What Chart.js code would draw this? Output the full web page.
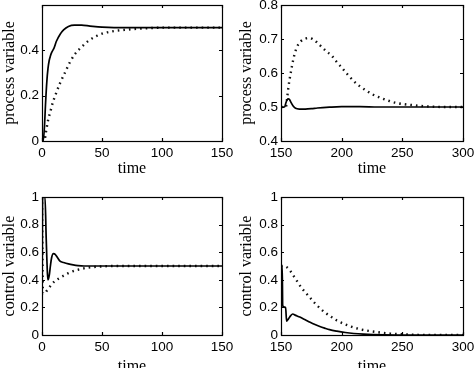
<!DOCTYPE html>
<html><head><meta charset="utf-8">
<script src="https://cdn.jsdelivr.net/npm/chart.js@4/dist/chart.umd.min.js"></script>
<style>
html,body{margin:0;padding:0;background:#fff;overflow:hidden;width:474px;height:368px;position:relative;}
canvas{position:absolute;}
</style></head><body>
<canvas id="c1" width="237" height="184" style="left:0;top:0"></canvas>
<canvas id="c2" width="237" height="184" style="left:237px;top:0"></canvas>
<canvas id="c3" width="237" height="200" style="left:0;top:184px"></canvas>
<canvas id="c4" width="237" height="200" style="left:237px;top:184px"></canvas>
<script>
// ---- tick labels ----
const xTicksLeft = [0, 50, 100, 150];
const xTicksRight = [150, 200, 250, 300];
const yTicksP1 = [0, 0.2, 0.4];
const yTicksP2 = [0.4, 0.5, 0.6, 0.7, 0.8];
const yTicksCtrl = [0, 0.2, 0.4, 0.6, 0.8, 1];

// ---- panel 1: process variable, t 0..150 ----
const p1SolidT = [0, 1, 2, 3, 4, 5, 6, 7, 8, 10, 12, 15, 18, 22, 27, 33, 40, 50, 60, 150];
const p1SolidY = [0, 0, 0.06, 0.17, 0.26, 0.32, 0.355, 0.375, 0.39, 0.41, 0.44, 0.47, 0.49, 0.505, 0.511, 0.511, 0.507, 0.502, 0.5, 0.5];
const p1DotT = [0, 2, 3, 5, 7, 9, 11, 15, 19, 23, 27, 33, 39, 45, 51, 60, 70, 80, 90, 100, 150];
const p1DotY = [0, 0, 0.03, 0.09, 0.13, 0.17, 0.2, 0.255, 0.3, 0.345, 0.38, 0.415, 0.443, 0.462, 0.475, 0.485, 0.491, 0.495, 0.498, 0.5, 0.5];

// ---- panel 2: process variable, t 150..300 ----
const p2SolidT = [150, 153, 154, 155, 156, 157, 158, 160, 162, 165, 170, 175, 180, 190, 200, 215, 230, 300];
const p2SolidY = [0.5, 0.5, 0.512, 0.521, 0.524, 0.522, 0.515, 0.503, 0.496, 0.494, 0.494, 0.495, 0.497, 0.4995, 0.501, 0.501, 0.5, 0.5];
const p2DotT = [150, 154, 155, 156, 157, 158, 159, 161, 163, 166, 170, 173, 176, 179, 182, 187, 192, 196, 200, 205, 210, 215, 220, 226, 232, 238, 245, 252, 260, 270, 285, 300];
const p2DotY = [0.5, 0.5, 0.525, 0.555, 0.58, 0.6, 0.62, 0.653, 0.675, 0.692, 0.701, 0.703, 0.7, 0.692, 0.682, 0.665, 0.65, 0.632, 0.616, 0.595, 0.576, 0.561, 0.549, 0.536, 0.527, 0.519, 0.512, 0.508, 0.505, 0.502, 0.5, 0.5];

// ---- panel 3: control variable, t 0..150 ----
const p3SolidT = [0, 0.5, 2.5, 3.5, 4.5, 5, 6, 7, 8, 9.5, 11, 13, 15, 18, 22, 26, 30, 35, 150];
const p3SolidY = [0, 1, 1, 0.7, 0.45, 0.4, 0.43, 0.5, 0.56, 0.59, 0.585, 0.56, 0.535, 0.525, 0.515, 0.508, 0.503, 0.5, 0.5];
const p3DotT = [0, 0.8, 2, 4, 7, 10, 14, 18, 22, 26, 31, 36, 42, 50, 60, 150];
const p3DotY = [1, 0.3, 0.3, 0.32, 0.355, 0.385, 0.41, 0.43, 0.448, 0.463, 0.475, 0.485, 0.492, 0.497, 0.5, 0.5];

// ---- panel 4: control variable, t 150..300 ----
const p4SolidT = [150, 151, 151.4, 153.8, 154.6, 156, 158, 159.6, 162, 165.5, 170, 174, 178, 182, 186, 190, 196, 203, 210, 218, 226, 235, 245, 300];
const p4SolidY = [0.5, 0.5, 0.21, 0.2, 0.1, 0.115, 0.14, 0.152, 0.142, 0.13, 0.11, 0.092, 0.076, 0.062, 0.05, 0.039, 0.028, 0.018, 0.011, 0.006, 0.003, 0.001, 0, 0];
const p4DotT = [150, 152, 155, 158, 161, 164, 167, 170, 174, 178, 182, 186, 190, 196, 202, 208, 215, 222, 230, 240, 250, 260, 270, 300];
const p4DotY = [0.5, 0.5, 0.49, 0.46, 0.42, 0.38, 0.34, 0.31, 0.27, 0.23, 0.195, 0.165, 0.14, 0.105, 0.08, 0.06, 0.042, 0.03, 0.02, 0.01, 0.005, 0.002, 0, 0];

const pts = (t, y) => t.map((v, i) => ({x: v, y: y[i]}));

const boxPlugin = {
  id: 'box',
  afterDatasetsDraw(chart) {
    const {ctx, chartArea: a, scales: {x, y}} = chart;
    ctx.save();
    ctx.strokeStyle = '#000';
    ctx.lineWidth = 1.2;
    ctx.strokeRect(a.left + 0.5, a.top + 0.5, a.right - a.left, a.bottom - a.top);
    const L = 3;
    ctx.beginPath();
    x.ticks.forEach(t => {
      const p = Math.round(x.getPixelForValue(t.value)) + 0.5;
      ctx.moveTo(p, a.bottom); ctx.lineTo(p, a.bottom - L);
      ctx.moveTo(p, a.top); ctx.lineTo(p, a.top + L);
    });
    y.ticks.forEach(t => {
      const p = Math.round(y.getPixelForValue(t.value)) + 0.5;
      ctx.moveTo(a.left, p); ctx.lineTo(a.left + L, p);
      ctx.moveTo(a.right, p); ctx.lineTo(a.right - L, p);
    });
    ctx.stroke();
    ctx.restore();
  }
};

function make(id, o) {
  const canvas = document.getElementById(id);
  const W = canvas.width, H = canvas.height;
  const a = o.area;
  const fmt = v => String(Math.round(v * 10) / 10);
  new Chart(canvas, {
    type: 'line',
    data: {
      datasets: [
        {data: o.solid, borderColor: '#000', borderWidth: 1.7, pointRadius: 0, cubicInterpolationMode: 'monotone', fill: false},
        {data: o.dot, borderColor: '#111', borderWidth: 2.4, borderDash: [1.6, 4], pointRadius: 0, cubicInterpolationMode: 'monotone', fill: false}
      ]
    },
    options: {
      responsive: false,
      animation: false,
      devicePixelRatio: 1,
      layout: {padding: {left: 0, top: a.top, right: W - a.right, bottom: 0}},
      plugins: {legend: {display: false}, tooltip: {enabled: false}},
      scales: {
        x: {
          type: 'linear', min: o.xMin, max: o.xMax,
          grid: {display: false, drawTicks: false}, border: {display: false},
          afterBuildTicks: s => { s.ticks = o.xTicks.map(v => ({value: v})); },
          afterFit: s => { s.height = H - a.bottom; s.paddingLeft = 0; s.paddingRight = 0; },
          ticks: {autoSkip: false, maxRotation: 0, padding: 4.5, color: '#000',
                  font: {family: 'Liberation Sans', size: 13.5}, callback: fmt},
          title: {display: true, text: 'time', color: '#000',
                  font: {family: 'Liberation Serif', size: 16}, padding: {top: 0, bottom: o.xTitlePad}}
        },
        y: {
          type: 'linear', min: o.yMin, max: o.yMax,
          grid: {display: false, drawTicks: false}, border: {display: false},
          afterBuildTicks: s => { s.ticks = o.yTicks.map(v => ({value: v})); },
          afterFit: s => { s.width = a.left; s.paddingTop = 0; s.paddingBottom = 0; },
          ticks: {autoSkip: false, padding: 3, color: '#000',
                  font: {family: 'Liberation Sans', size: 13.5}, callback: fmt},
          title: {display: true, text: o.yTitle, color: '#000',
                  font: {family: 'Liberation Serif', size: 16}, padding: 0}
        }
      }
    },
    plugins: [boxPlugin]
  });
}

make('c1', {area: {left: 42, top: 5, right: 222, bottom: 141}, xMin: 0, xMax: 150, yMin: 0, yMax: 0.6,
  xTicks: xTicksLeft, yTicks: yTicksP1, yTitle: 'process variable', xTitlePad: 5.5,
  solid: pts(p1SolidT, p1SolidY), dot: pts(p1DotT, p1DotY)});
make('c2', {area: {left: 44, top: 5, right: 226, bottom: 141}, xMin: 150, xMax: 300, yMin: 0.4, yMax: 0.8,
  xTicks: xTicksRight, yTicks: yTicksP2, yTitle: 'process variable', xTitlePad: 5.5,
  solid: pts(p2SolidT, p2SolidY), dot: pts(p2DotT, p2DotY)});
make('c3', {area: {left: 42, top: 13, right: 222, bottom: 151}, xMin: 0, xMax: 150, yMin: 0, yMax: 1,
  xTicks: xTicksLeft, yTicks: yTicksCtrl, yTitle: 'control variable', xTitlePad: 7.5,
  solid: pts(p3SolidT, p3SolidY), dot: pts(p3DotT, p3DotY)});
make('c4', {area: {left: 44, top: 13, right: 226, bottom: 151}, xMin: 150, xMax: 300, yMin: 0, yMax: 1,
  xTicks: xTicksRight, yTicks: yTicksCtrl, yTitle: 'control variable', xTitlePad: 7.5,
  solid: pts(p4SolidT, p4SolidY), dot: pts(p4DotT, p4DotY)});
</script>
</body></html>
